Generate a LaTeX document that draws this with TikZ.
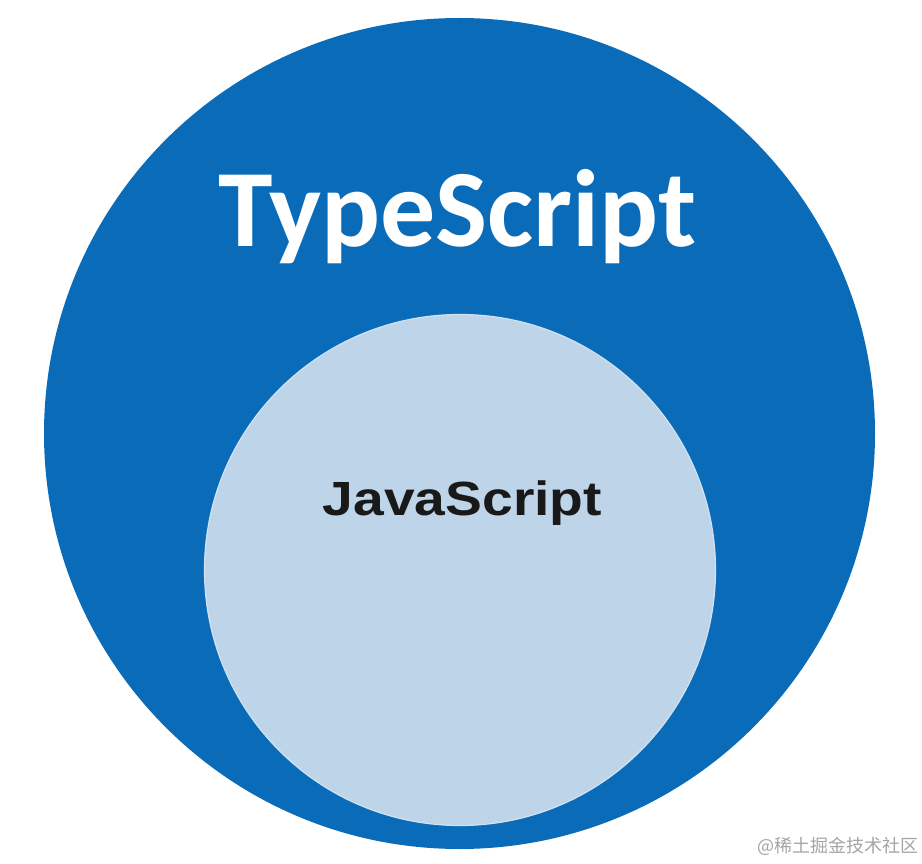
\documentclass[tikz,border=0pt]{standalone}
\usepackage{fontspec}
\setmainfont{Carlito}
\newfontfamily\jsfont{Liberation Sans}
\newfontfamily\cjkfont{Noto Sans CJK SC}
\definecolor{tsblue}{RGB}{10,108,185}
\definecolor{jsblue}{RGB}{190,212,232}
\definecolor{jsrim}{RGB}{210,226,240}
\definecolor{wmgray}{RGB}{165,165,165}
\begin{document}
\begin{tikzpicture}[x=1pt,y=-1pt,
  outercircle/.style={circle,fill=tsblue,inner sep=0pt,minimum size=831pt},
  innercircle/.style={circle,fill=jsblue,draw=jsrim,line width=1.2pt,inner sep=0pt,minimum size=511pt},
  tslabel/.style={anchor=base,text=white,inner sep=0pt,font=\bfseries\fontsize{110}{110}\selectfont},
  jslabel/.style={anchor=base,text=black!90,inner sep=0pt,xscale=1.15,font=\jsfont\bfseries\fontsize{48}{48}\selectfont},
  watermark/.style={anchor=center,text=wmgray,inner sep=0pt,font=\cjkfont\fontsize{18}{18}\selectfont}]
\useasboundingbox (0,0) rectangle (922,864);
\fill[white] (0,0) rectangle (922,864);
\node[outercircle] (ts) at (459.5,433.5) {};
\node[innercircle] (js) at (460,570) {};
\node[tslabel] (tstext) at (457.5,247) {TypeScript};
\node[jslabel] (jstext) at (462.5,515) {JavaScript};
\node[watermark] (wm) at (838,846) {@稀土掘金技术社区};
\end{tikzpicture}
\end{document}
